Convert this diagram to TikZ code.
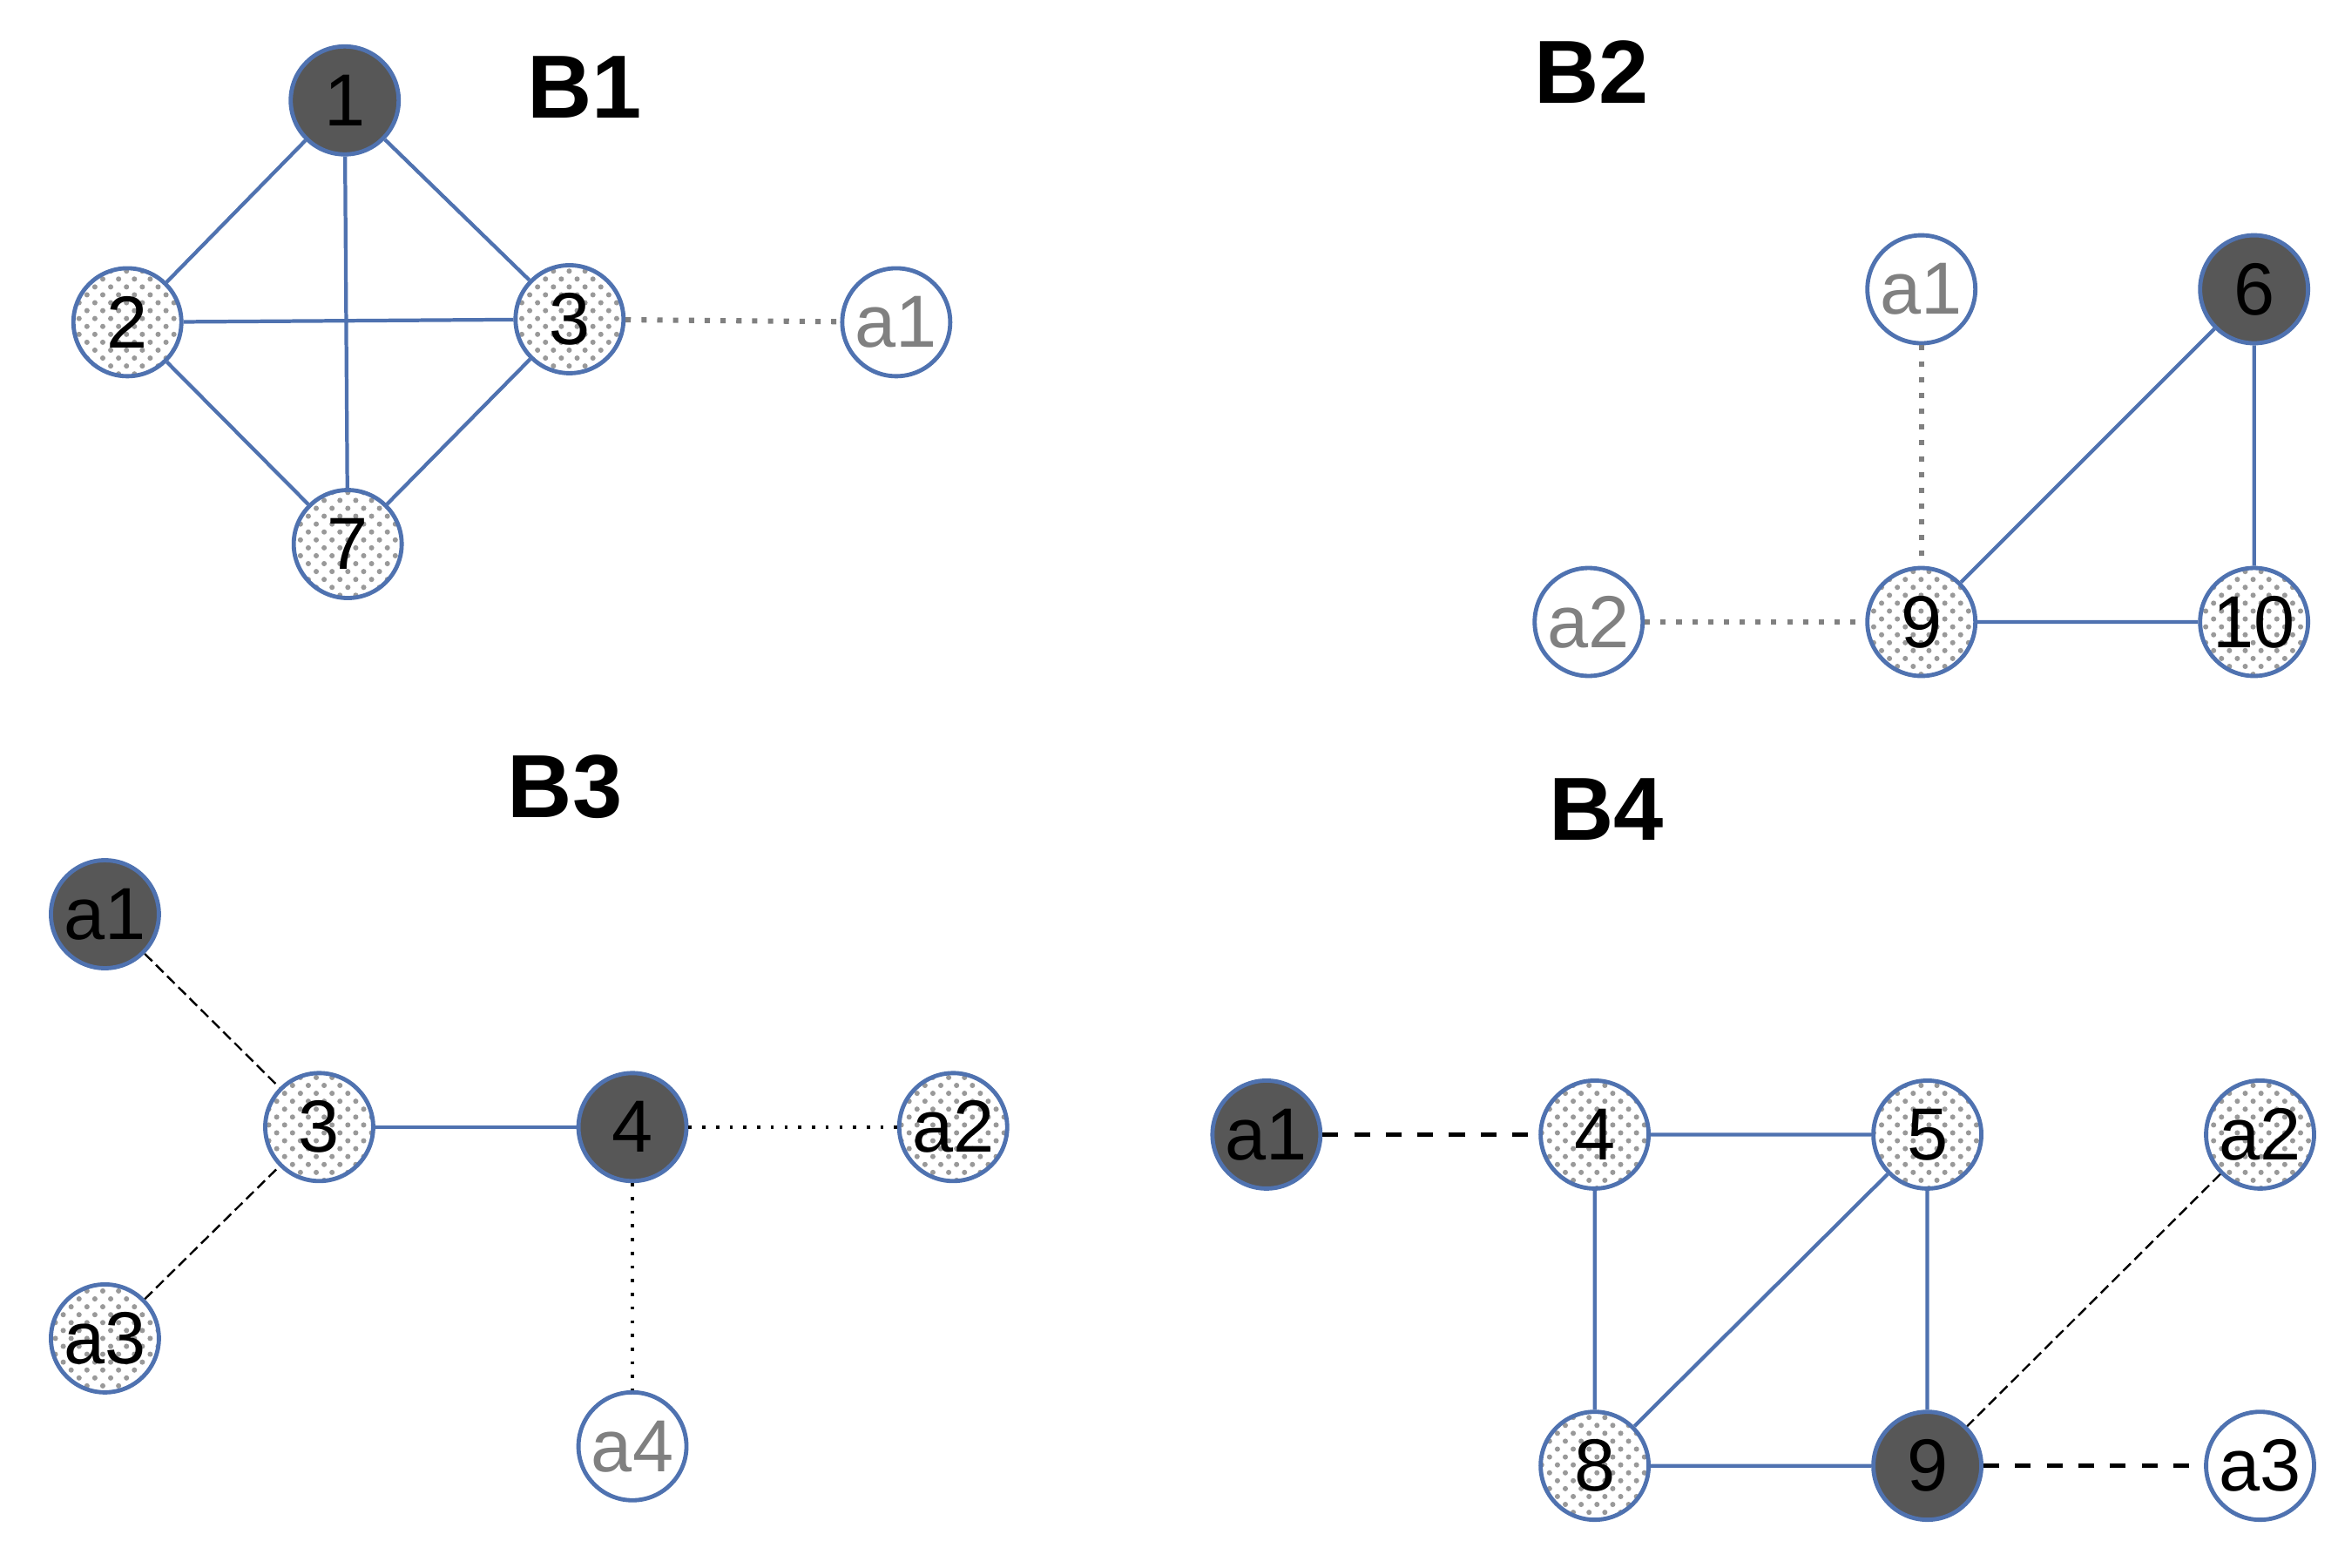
\documentclass[tikz,border=0pt]{standalone}
\usepackage{fontspec}
\setmainfont{Liberation Sans}
\usetikzlibrary{patterns}
\definecolor{nb}{HTML}{4F72B0}
\definecolor{dk}{HTML}{575757}
\tikzset{
 vtx/.style={circle,draw=nb,line width=0.8pt,minimum size=0.72cm,inner sep=0pt,font=\fontsize{14}{14}\selectfont},
 dotv/.style={vtx,pattern=crosshatch dots,pattern color=gray!80},
 dkv/.style={vtx,fill=dk,text=black},
 whv/.style={vtx,fill=white,text=gray},
 wbv/.style={vtx,fill=white,text=black},
 be/.style={draw=nb,line width=0.7pt},
 ge/.style={draw=gray,line width=1pt,dotted},
 kd/.style={draw=black,line width=0.6pt,dotted},
 kdash/.style={draw=black,line width=0.8pt,dashed},
 kfine/.style={draw=black,line width=0.4pt,dash pattern=on 2pt off 1pt},
 lab/.style={font=\bfseries\fontsize{17}{17}\selectfont}
}
\begin{document}
\begin{tikzpicture}[x=0.01cm,y=-0.01cm]
\useasboundingbox[fill=white] (0,0) rectangle (1560,1046);
% B1
\node[lab] (lb1) at (390,58) {B1};
\node[dkv] (b1n1) at (230,67) {1};
\node[dotv] (b1n2) at (85,215) {2};
\node[dotv] (b1n3) at (380,213) {3};
\node[dotv] (b1n7) at (232,363) {7};
\node[whv] (b1a1) at (598,215) {a1};
\draw[be] (b1n1)--(b1n2) (b1n1)--(b1n3) (b1n1)--(b1n7) (b1n2)--(b1n3) (b1n2)--(b1n7) (b1n3)--(b1n7);
\draw[ge] (b1n3)--(b1a1);
% B2
\node[lab] (lb2) at (1062,48) {B2};
\node[whv] (b2a1) at (1282,193) {a1};
\node[dkv] (b2n6) at (1504,193) {6};
\node[whv] (b2a2) at (1060,415) {a2};
\node[dotv] (b2n9) at (1282,415) {9};
\node[dotv] (b2n10) at (1504,415) {10};
\draw[be] (b2n6)--(b2n9) (b2n6)--(b2n10) (b2n9)--(b2n10);
\draw[ge] (b2a1)--(b2n9) (b2a2)--(b2n9);
% B3
\node[lab] (lb3) at (377,525) {B3};
\node[dkv] (b3a1) at (70,610) {a1};
\node[dotv] (b3n3) at (213,752) {3};
\node[dkv] (b3n4) at (422,752) {4};
\node[dotv] (b3a2) at (636,752) {a2};
\node[dotv] (b3a3) at (70,893) {a3};
\node[whv] (b3a4) at (422,965) {a4};
\draw[be] (b3n3)--(b3n4);
\draw[kfine] (b3a1)--(b3n3) (b3a3)--(b3n3);
\draw[kd] (b3n4)--(b3a2) (b3n4)--(b3a4);
% B4
\node[lab] (lb4) at (1072,540) {B4};
\node[dkv] (b4a1) at (845,757) {a1};
\node[dotv] (b4n4) at (1064,757) {4};
\node[dotv] (b4n5) at (1286,757) {5};
\node[dotv] (b4a2) at (1508,757) {a2};
\node[dotv] (b4n8) at (1064,978) {8};
\node[dkv] (b4n9) at (1286,978) {9};
\node[wbv] (b4a3) at (1508,978) {a3};
\draw[be] (b4n4)--(b4n5) (b4n4)--(b4n8) (b4n5)--(b4n8) (b4n5)--(b4n9) (b4n8)--(b4n9);
\draw[kdash] (b4a1)--(b4n4) (b4n9)--(b4a3);
\draw[kfine] (b4a2)--(b4n9);
\end{tikzpicture}
\end{document}
